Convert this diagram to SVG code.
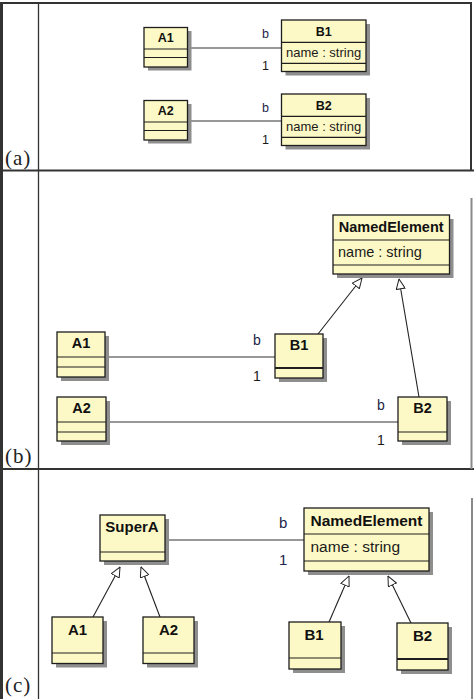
<svg xmlns="http://www.w3.org/2000/svg" width="474" height="699" viewBox="0 0 474 699">
<style>
.sh{fill:#8e8e8e}
.bx{fill:#fdf9c6;stroke:#1e1e1e;stroke-width:1.3}
.dv{stroke:#1e1e1e;stroke-width:1.2}
.dvt{stroke:#1e1e1e;stroke-width:2}
.t{font-family:"Liberation Sans",Arial,sans-serif;font-weight:bold;fill:#111;text-anchor:middle}
.a{font-family:"Liberation Sans",Arial,sans-serif;fill:#1a1a1a}
.lb{font-family:"Liberation Sans",Arial,sans-serif;fill:#1c2448}
.as{stroke:#333;stroke-width:1.1;fill:none}
.gen{stroke:#222;stroke-width:1.1;fill:none;marker-end:url(#tri)}
.fr{stroke:#333;fill:none}
.pl{font-family:"Liberation Serif","Times New Roman",serif;font-size:21px;fill:#222;letter-spacing:1px}
</style>
<defs>
<marker id="tri" viewBox="0 0 11 10" markerWidth="11" markerHeight="10" refX="10.5" refY="5" orient="auto" markerUnits="userSpaceOnUse">
<path d="M0.5,0.5 L10.5,5 L0.5,9.5 Z" fill="#fff" stroke="#222" stroke-width="1"/>
</marker>
</defs>
<rect width="474" height="699" fill="#fff"/>

<g id="frame">
<line class="fr" x1="1.5" y1="2" x2="1.5" y2="699" stroke-width="3"/>
<line class="fr" x1="0" y1="3" x2="472" y2="3" stroke-width="2"/>
<line class="fr" x1="471" y1="3" x2="471" y2="171" stroke-width="2"/>
<line class="fr" x1="0" y1="170.5" x2="474" y2="170.5" stroke-width="2"/>
<line class="fr" x1="0" y1="469" x2="474" y2="469" stroke-width="2"/>
<line class="fr" x1="38.5" y1="3" x2="38.5" y2="699" stroke-width="1.3"/>
<line x1="471.5" y1="198" x2="471.5" y2="469" stroke="#8a8a8a" stroke-width="2"/>
<line x1="472" y1="498" x2="472" y2="699" stroke="#8a8a8a" stroke-width="2"/>
<text class="pl" x="5" y="165">(a)</text>
<text class="pl" x="5" y="463">(b)</text>
<text class="pl" x="5" y="692">(c)</text>
</g>

<g id="connectors">
<line class="as" x1="188" y1="48" x2="282" y2="48"/>
<line class="as" x1="188" y1="121" x2="282" y2="121"/>
<line class="as" x1="105" y1="357" x2="275" y2="357"/>
<line class="as" x1="106" y1="422" x2="398" y2="422"/>
<line class="as" x1="165" y1="540" x2="304" y2="540"/>
<line class="gen" x1="318" y1="334" x2="362" y2="278"/>
<line class="gen" x1="419" y1="397" x2="399" y2="279"/>
<line class="gen" x1="93" y1="617" x2="120" y2="567"/>
<line class="gen" x1="160" y1="617" x2="141" y2="567"/>
<line class="gen" x1="329" y1="622" x2="349" y2="576"/>
<line class="gen" x1="411" y1="623" x2="388" y2="576"/>
<g id="labels">
<text class="lb" x="262" y="38" font-size="12.5">b</text>
<text class="a" x="262" y="70" font-size="12.5">1</text>
<text class="lb" x="262" y="112" font-size="12.5">b</text>
<text class="a" x="262" y="144" font-size="12.5">1</text>
<text class="lb" x="253" y="345" font-size="14">b</text>
<text class="a" x="253" y="381" font-size="14">1</text>
<text class="lb" x="377" y="410" font-size="14">b</text>
<text class="a" x="377" y="445" font-size="14">1</text>
<text class="lb" x="279" y="528" font-size="15">b</text>
<text class="lb" x="279" y="565" font-size="15">1</text>
</g>
</g>

<!-- panel a -->
<g id="a-A1">
<rect class="sh" x="148" y="31" width="43.5" height="39.5"/>
<rect class="bx" x="144" y="27.5" width="43.5" height="39.5"/>
<line class="dv" x1="144" y1="49" x2="187.5" y2="49"/>
<line class="dv" x1="144" y1="57.5" x2="187.5" y2="57.5"/>
<text class="t" x="165.8" y="41.5" font-size="12.5">A1</text>
</g>
<g id="a-B1">
<rect class="sh" x="285.5" y="24" width="84.5" height="51.5"/>
<rect class="bx" x="281.5" y="20" width="84.5" height="51.5"/>
<line class="dv" x1="281.5" y1="42.3" x2="366" y2="42.3"/>
<line class="dv" x1="281.5" y1="63.3" x2="366" y2="63.3"/>
<text class="t" x="323.7" y="35.5" font-size="12.5">B1</text>
<text class="a" x="286" y="57" font-size="13">name : string</text>
</g>
<g id="a-A2">
<rect class="sh" x="148" y="104" width="43.5" height="39.5"/>
<rect class="bx" x="144" y="100.5" width="43.5" height="39.5"/>
<line class="dv" x1="144" y1="122" x2="187.5" y2="122"/>
<line class="dv" x1="144" y1="130.5" x2="187.5" y2="130.5"/>
<text class="t" x="165.8" y="114.5" font-size="12.5">A2</text>
</g>
<g id="a-B2">
<rect class="sh" x="285.5" y="98" width="84.5" height="51.5"/>
<rect class="bx" x="281.5" y="94" width="84.5" height="51.5"/>
<line class="dv" x1="281.5" y1="116.3" x2="366" y2="116.3"/>
<line class="dv" x1="281.5" y1="137.3" x2="366" y2="137.3"/>
<text class="t" x="323.7" y="109.5" font-size="12.5">B2</text>
<text class="a" x="286" y="131" font-size="13">name : string</text>
</g>

<!-- panel b -->
<g id="b-NamedElement">
<rect class="sh" x="337" y="219" width="116.5" height="59"/>
<rect class="bx" x="333" y="215" width="116.5" height="59"/>
<line class="dv" x1="333" y1="240" x2="449.5" y2="240"/>
<line class="dv" x1="333" y1="265" x2="449.5" y2="265"/>
<text class="t" x="391.2" y="232" font-size="14.5">NamedElement</text>
<text class="a" x="338" y="257" font-size="14.5">name : string</text>
</g>
<g id="b-A1">
<rect class="sh" x="61" y="336" width="48" height="45"/>
<rect class="bx" x="57" y="332" width="48" height="45"/>
<line class="dv" x1="57" y1="357" x2="105" y2="357"/>
<line class="dv" x1="57" y1="367" x2="105" y2="367"/>
<text class="t" x="81" y="348" font-size="14.5">A1</text>
</g>
<g id="b-B1">
<rect class="sh" x="279" y="338" width="48" height="44"/>
<rect class="bx" x="275" y="334" width="48" height="44"/>
<line class="dvt" x1="275" y1="368" x2="323" y2="368"/>
<text class="t" x="299" y="350" font-size="14.5">B1</text>
</g>
<g id="b-A2">
<rect class="sh" x="61" y="401" width="49" height="44"/>
<rect class="bx" x="57" y="397" width="49" height="44"/>
<line class="dv" x1="57" y1="422" x2="106" y2="422"/>
<line class="dv" x1="57" y1="432" x2="106" y2="432"/>
<text class="t" x="81.5" y="413" font-size="14.5">A2</text>
</g>
<g id="b-B2">
<rect class="sh" x="402" y="401" width="49" height="44"/>
<rect class="bx" x="398" y="397" width="49" height="44"/>
<line class="dv" x1="398" y1="432" x2="447" y2="432"/>
<text class="t" x="422.5" y="413" font-size="14.5">B2</text>
</g>

<!-- panel c -->
<g id="c-SuperA">
<rect class="sh" x="104" y="519" width="65" height="46"/>
<rect class="bx" x="100" y="515" width="65" height="46"/>
<line class="dv" x1="100" y1="552" x2="165" y2="552"/>
<text class="t" x="132" y="532" font-size="15">SuperA</text>
</g>
<g id="c-NamedElement">
<rect class="sh" x="308" y="512" width="125" height="63"/>
<rect class="bx" x="304" y="508" width="125" height="63"/>
<line class="dv" x1="304" y1="534" x2="429" y2="534"/>
<line class="dv" x1="304" y1="561" x2="429" y2="561"/>
<text class="t" x="366.5" y="526" font-size="15.5">NamedElement</text>
<text class="a" x="310.5" y="552" font-size="15.5">name : string</text>
</g>
<g id="c-A1">
<rect class="sh" x="56" y="621" width="51" height="46.5"/>
<rect class="bx" x="52" y="617" width="51" height="46.5"/>
<line class="dv" x1="52" y1="653" x2="103" y2="653"/>
<text class="t" x="77.5" y="634.5" font-size="15">A1</text>
</g>
<g id="c-A2">
<rect class="sh" x="147" y="621" width="51" height="46.5"/>
<rect class="bx" x="143" y="617" width="51" height="46.5"/>
<line class="dv" x1="143" y1="653" x2="194" y2="653"/>
<text class="t" x="168.5" y="634.5" font-size="15">A2</text>
</g>
<g id="c-B1">
<rect class="sh" x="293" y="626" width="52" height="47"/>
<rect class="bx" x="289" y="622" width="52" height="47"/>
<line class="dv" x1="289" y1="658" x2="341" y2="658"/>
<text class="t" x="314" y="639.5" font-size="15">B1</text>
</g>
<g id="c-B2">
<rect class="sh" x="401" y="627" width="51" height="47"/>
<rect class="bx" x="397" y="623" width="51" height="47"/>
<line class="dvt" x1="397" y1="659" x2="448" y2="659"/>
<text class="t" x="422.5" y="641" font-size="15">B2</text>
</g>
</svg>
